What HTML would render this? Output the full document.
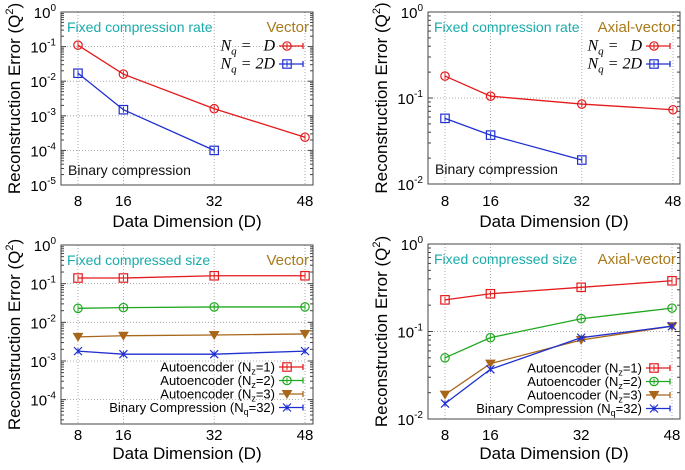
<!DOCTYPE html>
<html><head><meta charset="utf-8"><style>
body{margin:0;background:#fff;width:685px;height:465px;overflow:hidden}
svg text{font-family:"Liberation Sans",sans-serif}
svg text.serif{font-family:"Liberation Serif",serif}
</style></head><body>
<svg id="c" width="685" height="465" xmlns="http://www.w3.org/2000/svg"></svg>
<script>
const dims=[8,16,32,48];
// Panel A: fixed compression rate, vector
const aRed=[0.11,0.016,0.0016,0.00024];
const aBlue=[0.017,0.0015,0.0001];
// Panel B: fixed compression rate, axial-vector
const bRed=[0.18,0.105,0.085,0.073];
const bBlue=[0.058,0.037,0.019];
// Panel C: fixed compressed size, vector
const cNz1=[0.14,0.14,0.16,0.16];
const cNz2=[0.023,0.024,0.025,0.025];
const cNz3=[0.0042,0.0045,0.0047,0.005];
const cBin=[0.0018,0.0015,0.0015,0.0018];
// Panel D: fixed compressed size, axial-vector
const dNz1=[0.23,0.27,0.32,0.38];
const dNz2=[0.05,0.085,0.14,0.185];
const dNz3=[0.019,0.043,0.08,0.115];
const dBin=[0.015,0.037,0.085,0.115];

const NS="http://www.w3.org/2000/svg";
const svg=document.getElementById('c');
function el(t,a,p){const e=document.createElementNS(NS,t);for(const k in a)e.setAttribute(k,a[k]);(p||svg).appendChild(e);return e;}
const RED="#e41a1c",BLUE="#1f2fd0",GREEN="#1fa81f",BROWN="#a8661a";

function panel(cfg){
  const g=el('g',{});
  
  
  const {x0,x1,y0,y1,p8,p48,ymin,ymax}=cfg;
  const X=d=>p8+(d-8)*(p48-p8)/40;
  const Y=v=>y0+(ymax-Math.log10(v))*(y1-y0)/(ymax-ymin);
  for(let e=Math.ceil(ymin);e<=ymax;e++){
    const y=Y(Math.pow(10,e));
    if(e<ymax&&e>ymin){const gl=el('line',{x1:x0,x2:x1,y1:y,y2:y,stroke:'#999','stroke-dasharray':'1,2','stroke-width':0.8},g);}
    const t=el('text',{x:x0-5,y:y+6,'text-anchor':'end','font-size':15},g);
    
    t.innerHTML='10<tspan dy="-7" font-size="10">'+e+'</tspan>';
    el('line',{x1:x0,x2:x0+5,y1:y,y2:y,stroke:'#444'},g);
    el('line',{x1:x1,x2:x1-5,y1:y,y2:y,stroke:'#444'},g);
    if(e>ymin){for(let m=2;m<10;m++){const yy=Y(m*Math.pow(10,e-1));if(yy<=y1){el('line',{x1:x0,x2:x0+3,y1:yy,y2:yy,stroke:'#444'},g);el('line',{x1:x1,x2:x1-3,y1:yy,y2:yy,stroke:'#444'},g);}}}
  }
  dims.forEach(d=>{
    const x=X(d);
    const gl=el('line',{x1:x,x2:x,y1:y0,y2:y1,stroke:'#999','stroke-dasharray':'1,2','stroke-width':0.8},g);
    
    const t=el('text',{x:x,y:cfg.tickY,'text-anchor':'middle','font-size':15},g);
    
    t.textContent=d;
  });
  const box=el('rect',{x:x0,y:y0,width:x1-x0,height:y1-y0,fill:'none',stroke:'#444','stroke-width':1},g);
  
  const xt=el('text',{x:(x0+x1)/2,y:cfg.titleY,'text-anchor':'middle','font-size':17},g);
  
  xt.textContent='Data Dimension (D)';
  const yx=x0-41,yc=(y0+y1)/2;
  const yt=el('text',{x:yx,y:yc,'text-anchor':'middle','font-size':17,transform:`rotate(-90 ${yx} ${yc})`},g);
  
  yt.innerHTML='Reconstruction Error (Q<tspan dy="-7" font-size="11">2</tspan><tspan dy="7">)</tspan>';
  const t1=el('text',{x:x0+6,y:y0+20,'font-size':14,fill:'#1aabab'},g);
  
  t1.textContent=cfg.left;
  const t2=el('text',{x:x1-4,y:y0+20,'font-size':15,fill:'#a87a1a','text-anchor':'end'},g);
  
  t2.textContent=cfg.right;
  if(cfg.bottom){const t3=el('text',{x:x0+7,y:y1-10,'font-size':14,fill:'#111'},g);t3.textContent=cfg.bottom;}
  cfg.series.forEach((s,si)=>{
    const sg=el('g',{},g);
    
    
    const pts=s.vals.map((v,i)=>[X(dims[i]),Y(v)]);
    el('polyline',{points:pts.map(p=>p.join(',')).join(' '),fill:'none',stroke:s.color,'stroke-width':1.3},sg);
    pts.forEach(p=>marker(sg,s.m,p[0],p[1],s.color));
    const ly=cfg.legY+si*cfg.legDy, lx=x1-22;
    const attrs={x:lx-16,y:ly+4.5,'text-anchor':'end','font-size':cfg.legFont};
    if(s.italic){attrs['font-style']='italic';attrs['class']='serif';}
    const lt=el('text',attrs,g);
    
    lt.innerHTML=s.label;
    el('line',{x1:lx-12,x2:lx+12,y1:ly,y2:ly,stroke:s.color,'stroke-width':1.3},g);
    el('line',{x1:lx+12,x2:lx+12,y1:ly-3,y2:ly+3,stroke:s.color,'stroke-width':1.3},g);
    marker(g,s.m,lx-4,ly,s.color);
  });
}
function marker(p,m,x,y,c){
  const a={fill:'none',stroke:c,'stroke-width':1.2};
  if(m==='o')el('circle',Object.assign({cx:x,cy:y,r:4.2},a),p);
  else if(m==='s')el('rect',Object.assign({x:x-4.2,y:y-4.2,width:8.4,height:8.4},a),p);
  else if(m==='v')el('path',Object.assign({d:`M${x-4.5},${y-3.5}L${x+4.5},${y-3.5}L${x},${y+4}Z`,fill:c,stroke:c}),p);
  else {el('path',Object.assign({d:`M${x-4},${y-4}L${x+4},${y+4}M${x-4},${y+4}L${x+4},${y-4}`},a),p);}
  el('line',{x1:x,x2:x,y1:y-3,y2:y+3,stroke:c,'stroke-width':1},p);
}
const nqD='N<tspan dy="4" font-size="11">q</tspan><tspan dy="-4"> = &#160;&#160;D</tspan>';
const nq2D='N<tspan dy="4" font-size="11">q</tspan><tspan dy="-4"> = 2D</tspan>';
panel({name:'panel-vector-rate',x0:61,x1:313,y0:12,y1:185,p8:78,p48:305,ymin:-5,ymax:0,tickY:206,titleY:227,left:'Fixed compression rate',right:'Vector',bottom:'Binary compression',legY:46,legDy:18,legFont:16,
 series:[{key:'nq-d',vals:aRed,color:RED,m:'o',italic:true,label:nqD},
         {key:'nq-2d',vals:aBlue,color:BLUE,m:'s',italic:true,label:nq2D}]});
panel({name:'panel-axial-rate',x0:428,x1:680,y0:12,y1:184,p8:445,p48:673,ymin:-2,ymax:0,tickY:206,titleY:227,left:'Fixed compression rate',right:'Axial-vector',bottom:'Binary compression',legY:46,legDy:18,legFont:16,
 series:[{key:'nq-d',vals:bRed,color:RED,m:'o',italic:true,label:nqD},
         {key:'nq-2d',vals:bBlue,color:BLUE,m:'s',italic:true,label:nq2D}]});
const lab=['Autoencoder (N<tspan dy="3" font-size="9">z</tspan><tspan dy="-3">=1)</tspan>','Autoencoder (N<tspan dy="3" font-size="9">z</tspan><tspan dy="-3">=2)</tspan>','Autoencoder (N<tspan dy="3" font-size="9">z</tspan><tspan dy="-3">=3)</tspan>','Binary Compression (N<tspan dy="3" font-size="9">q</tspan><tspan dy="-3">=32)</tspan>'];
panel({name:'panel-vector-size',x0:61,x1:313,y0:245,y1:424,p8:78,p48:305,ymin:-4.63,ymax:0,tickY:440,titleY:459,left:'Fixed compressed size',right:'Vector',legY:367,legDy:13.5,legFont:13,
 series:[{key:'nz1',vals:cNz1,color:RED,m:'s',label:lab[0]},{key:'nz2',vals:cNz2,color:GREEN,m:'o',label:lab[1]},{key:'nz3',vals:cNz3,color:BROWN,m:'v',label:lab[2]},{key:'binary',vals:cBin,color:BLUE,m:'x',label:lab[3]}]});
panel({name:'panel-axial-size',x0:428,x1:680,y0:244,y1:419,p8:445,p48:672,ymin:-2,ymax:0,tickY:440,titleY:459,left:'Fixed compressed size',right:'Axial-vector',legY:368,legDy:13.5,legFont:13,
 series:[{key:'nz1',vals:dNz1,color:RED,m:'s',label:lab[0]},{key:'nz2',vals:dNz2,color:GREEN,m:'o',label:lab[1]},{key:'nz3',vals:dNz3,color:BROWN,m:'v',label:lab[2]},{key:'binary',vals:dBin,color:BLUE,m:'x',label:lab[3]}]});
</script>
</body></html>
